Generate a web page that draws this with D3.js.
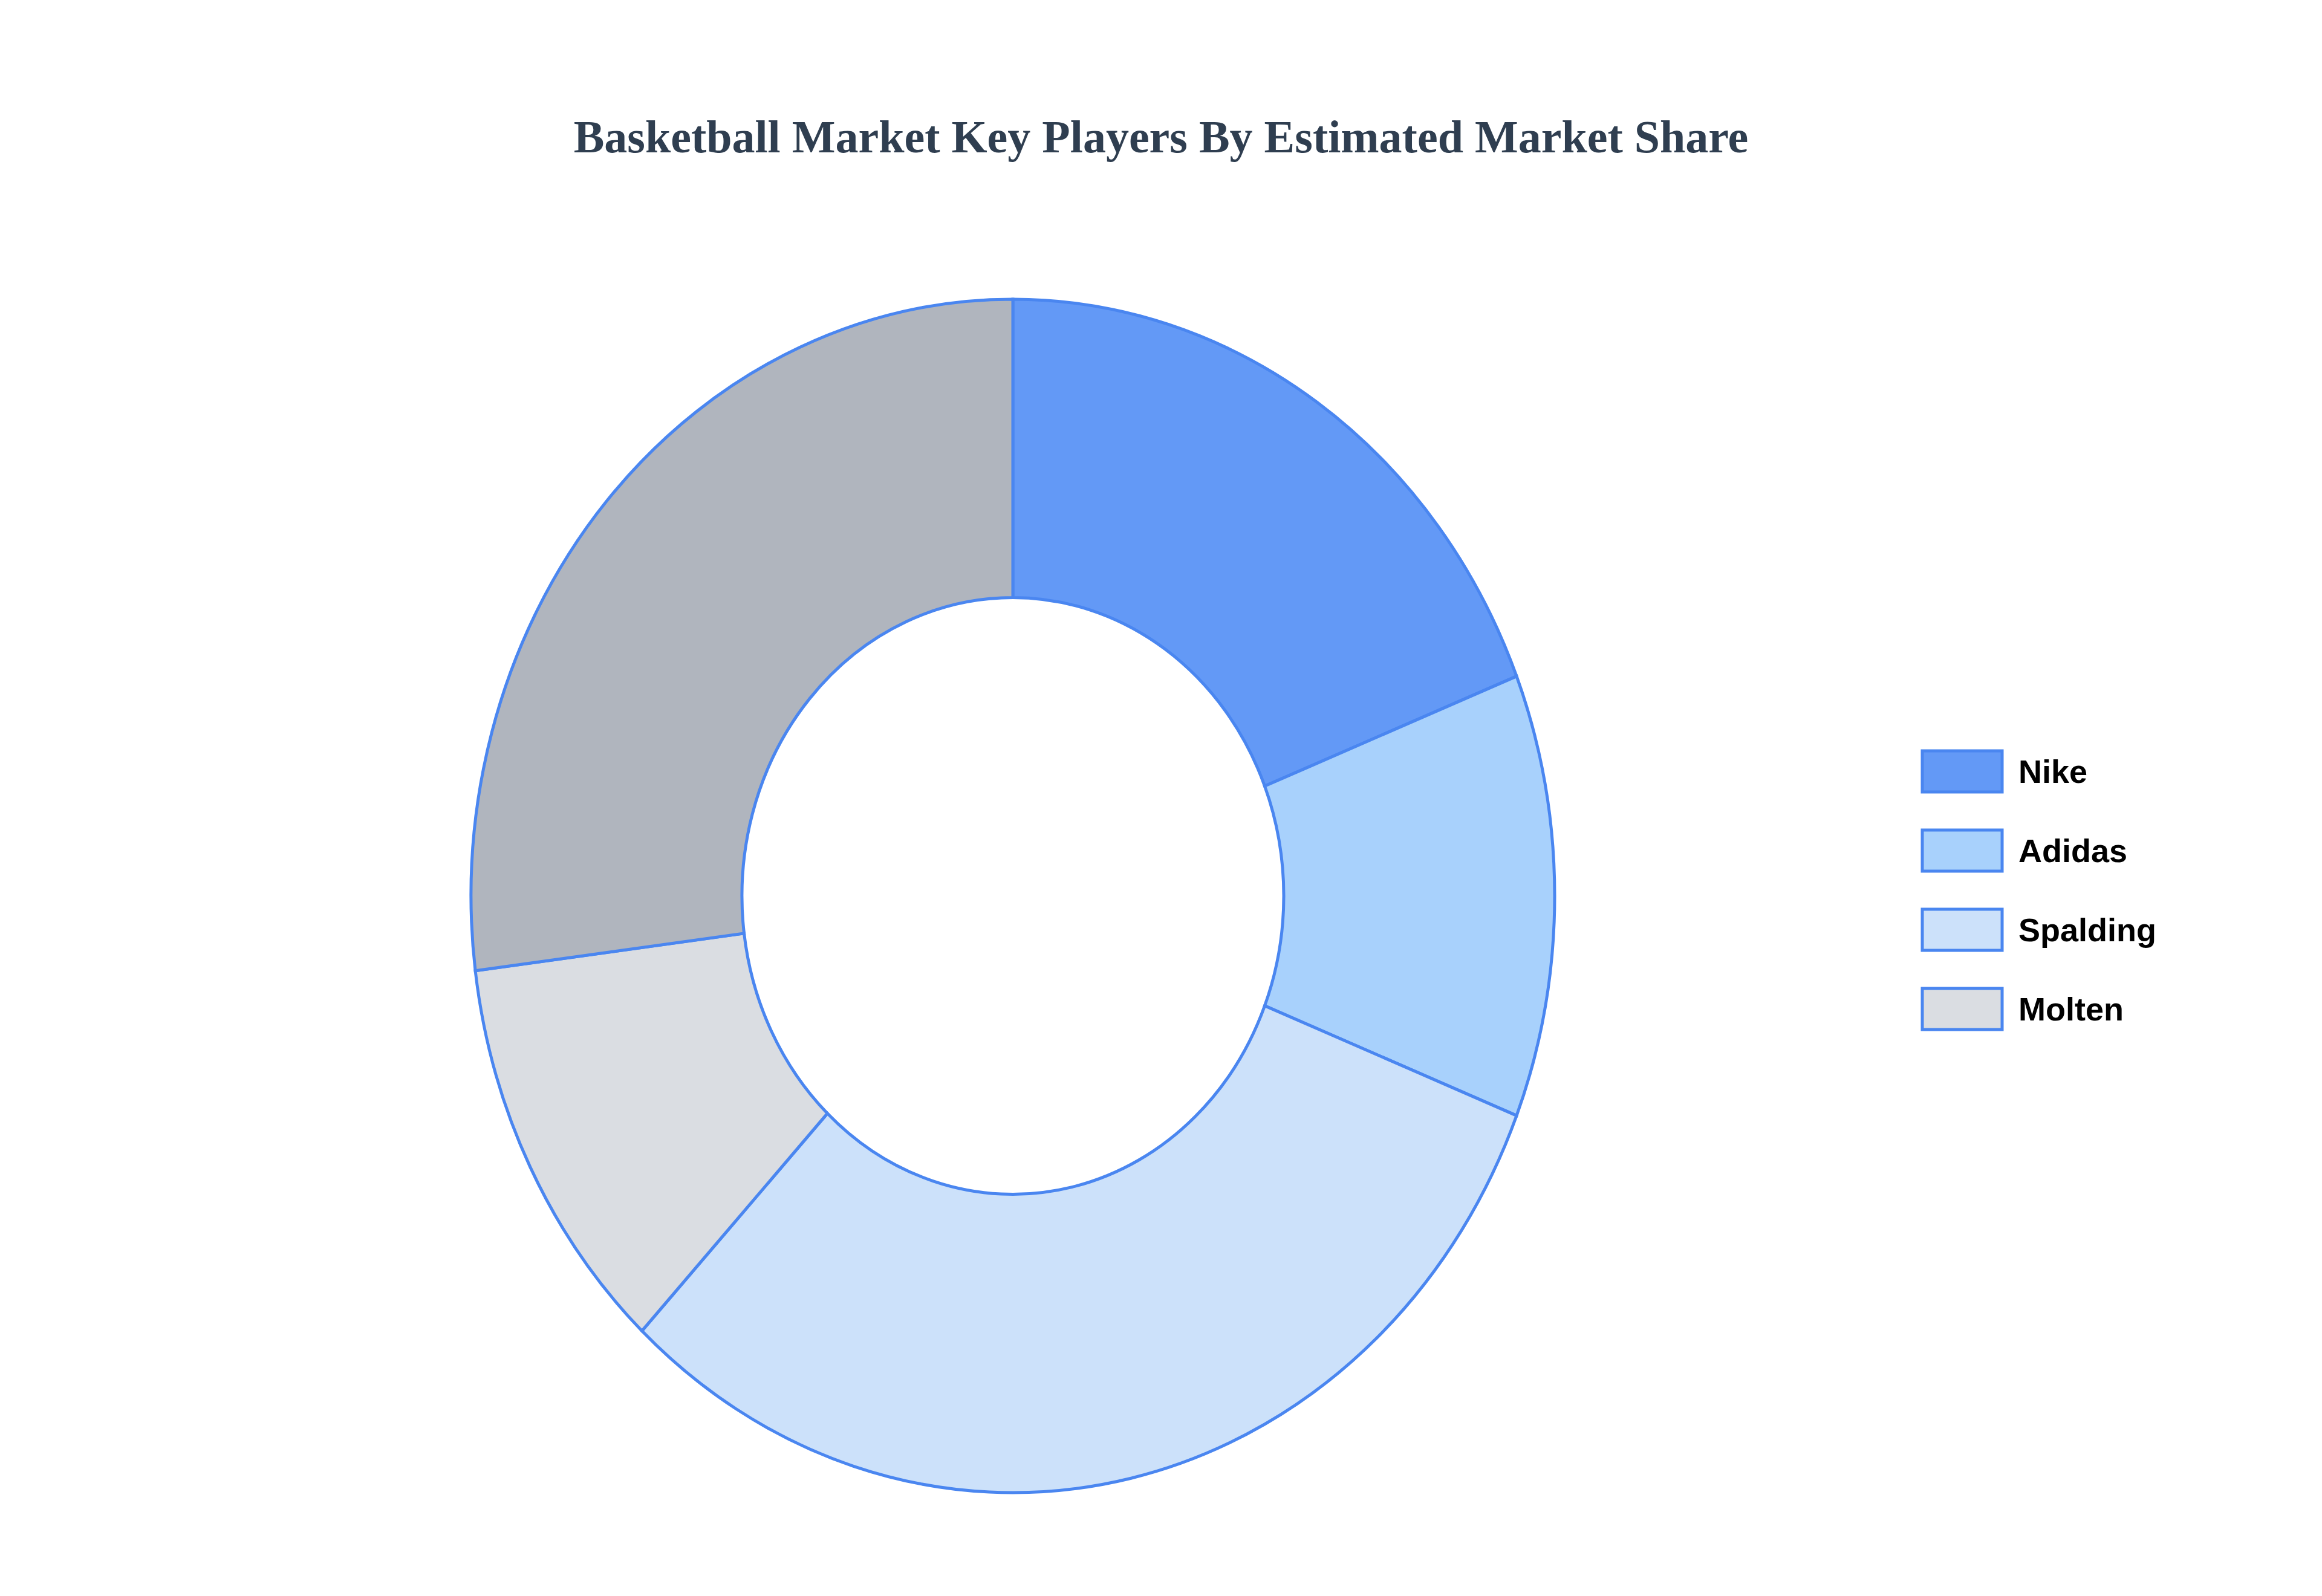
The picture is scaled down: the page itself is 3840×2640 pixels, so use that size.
<!DOCTYPE html>
<html>
<head>
    <script src="https://d3js.org/d3.v7.min.js"></script>
    <style>
        body { margin: 0; background: #fff; }
    </style>
</head>
<body>
    <div id="chart"></div>
    <script>
        // data
        const brands = ["Nike", "Adidas", "Spalding", "Molten", "Others"];
        const shares = [19, 12, 31, 11, 27];
        const colors = ["#6399f6", "#a8d1fc", "#cce1fa", "#dadde2", "#b0b5be"];
        const legendBrands = ["Nike", "Adidas", "Spalding", "Molten"];

        const W = 3840, H = 2640;
        const cx = 1675, cy = 1482, rx = 896, ry = 987;

        const svg = d3.select("#chart").append("svg")
            .attr("width", W).attr("height", H);

        svg.append("text")
            .attr("x", 1920).attr("y", 252)
            .attr("text-anchor", "middle")
            .style("font-family", "'Liberation Serif', serif")
            .style("font-weight", "bold")
            .style("font-size", "76px")
            .attr("fill", "#2f3e50")
            .text("Basketball Market Key Players By Estimated Market Share");

        const data = brands.map((b, i) => ({ brand: b, value: shares[i], color: colors[i] }));
        const pie = d3.pie().value(d => d.value).sort(null);
        const arc = d3.arc().innerRadius(rx * 0.5).outerRadius(rx);

        // the donut is a little taller than wide in the picture
        const g = svg.append("g")
            .attr("transform", `translate(${cx},${cy}) scale(1,${ry / rx})`);
        g.selectAll("path")
            .data(pie(data))
            .join("path")
            .attr("d", arc)
            .attr("fill", d => d.data.color)
            .attr("stroke", "#4a86f0")
            .attr("stroke-width", 5)
            .attr("vector-effect", "non-scaling-stroke");

        // legend
        const legend = svg.append("g")
            .selectAll("g")
            .data(legendBrands)
            .join("g")
            .attr("transform", (d, i) => `translate(3179,${1276 + i * 131})`);
        legend.append("rect")
            .attr("x", 0).attr("y", -34)
            .attr("width", 132).attr("height", 68)
            .attr("fill", d => colors[brands.indexOf(d)])
            .attr("stroke", "#4a86f0").attr("stroke-width", 5);
        legend.append("text")
            .attr("x", 159).attr("y", 0).attr("dy", "0.35em")
            .style("font-family", "'Liberation Sans', Arial, sans-serif")
            .style("font-weight", "bold")
            .style("font-size", "54px")
            .attr("fill", "#000")
            .text(d => d);
    </script>
</body>
</html>
